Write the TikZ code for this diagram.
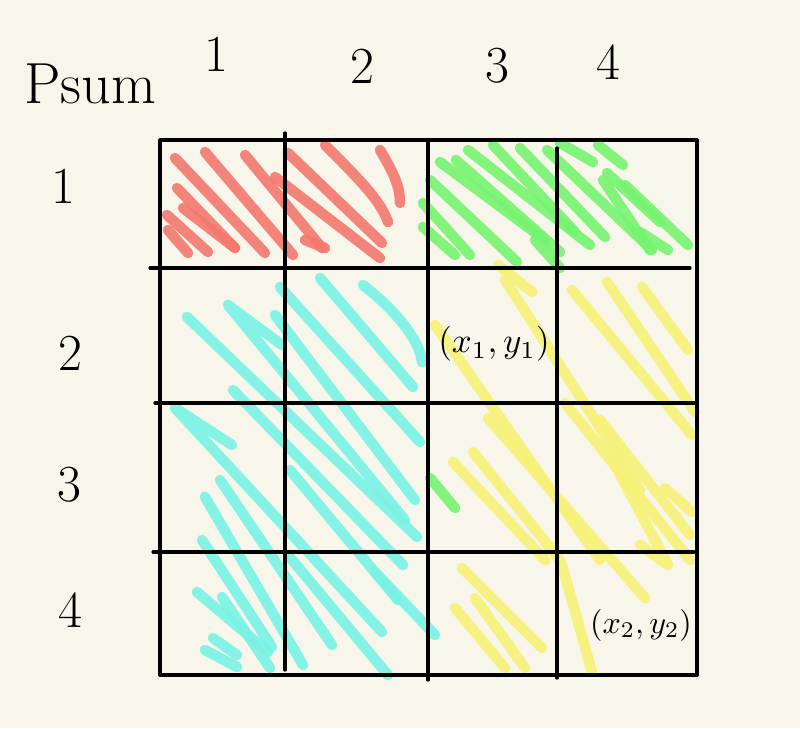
\documentclass[tikz,border=0pt]{standalone}
\usepackage{fontspec}
\begin{document}
\begin{tikzpicture}[x=1pt,y=-1pt,
  hatch/.style={line width=10.5pt,line cap=round,line join=round,opacity=0.9},
  redh/.style={hatch,draw=redc},
  greenh/.style={hatch,draw=greenc},
  cyanh/.style={hatch,draw=cyanc},
  yellowh/.style={hatch,draw=yellowc},
  gridline/.style={line width=3.2pt,line cap=round,draw=black},
  lab/.style={font=\fontsize{52}{56}\selectfont,inner sep=0pt},
  pt/.style={inner sep=0pt}]
\definecolor{bg}{RGB}{248,246,234}
\definecolor{redc}{RGB}{244,120,110}
\definecolor{greenc}{RGB}{118,243,112}
\definecolor{cyanc}{RGB}{120,242,228}
\definecolor{yellowc}{RGB}{246,242,118}
\fill[bg] (0,0) rectangle (800,728);
\useasboundingbox (0,0) rectangle (800,728);

% red hatching (row 1, columns 1-2)
\draw[redh] (175,158) -- (265,253);
\draw[redh] (177,188) -- (235,248);
\draw[redh] (183,208) -- (235,248);
\draw[redh] (167,215) -- (208,252);
\draw[redh] (168,230) -- (188,253);
\draw[redh] (205,152) -- (293,255);
\draw[redh] (245,155) -- (322,248);
\draw[redh] (275,177) -- (380,258);
\draw[redh] (288,153) -- (382,243);
\draw[redh] (305,240) -- (325,248);
\draw[redh] (325,145) .. controls (360,180) and (380,200) .. (388,222);
\draw[redh] (380,150) .. controls (395,175) and (400,188) .. (400,203);

% green hatching (row 1, columns 3-4)
\draw[greenh] (430,180) -- (517,262);
\draw[greenh] (423,203) -- (470,255);
\draw[greenh] (423,227) -- (455,255);
\draw[greenh] (440,162) -- (545,240);
\draw[greenh] (456,160) -- (560,252);
\draw[greenh] (468,150) -- (590,245);
\draw[greenh] (493,145) -- (575,232);
\draw[greenh] (520,148) -- (605,237);
\draw[greenh] (547,150) -- (652,250);
\draw[greenh] (560,143) -- (593,162);
\draw[greenh] (598,145) -- (623,165);
\draw[greenh] (607,173) -- (660,222);
\draw[greenh] (603,180) -- (650,250);
\draw[greenh] (625,185) -- (688,245);
\draw[greenh] (640,232) -- (668,250);
\draw[greenh] (535,240) -- (560,268);

% cyan hatching (rows 2-4, columns 1-2)
\draw[cyanh] (187,317) -- (417,537);
\draw[cyanh] (282,345) -- (228,305) -- (405,520);
\draw[cyanh] (280,287) -- (420,442);
\draw[cyanh] (320,278) -- (413,387);
\draw[cyanh] (363,285) .. controls (395,310) and (420,340) .. (422,362);
\draw[cyanh] (275,315) -- (415,500);
\draw[cyanh] (233,390) -- (403,565);
\draw[cyanh] (232,445) -- (175,408) -- (382,632);
\draw[cyanh] (220,480) -- (332,645);
\draw[cyanh] (205,497) -- (303,665);
\draw[cyanh] (202,540) -- (272,647);
\draw[cyanh] (197,592) -- (268,652);
\draw[cyanh] (222,597) -- (270,668);
\draw[cyanh] (205,650) -- (237,667);
\draw[cyanh] (213,638) -- (237,655);
\draw[cyanh] (375,572) -- (435,635);
\draw[cyanh] (288,555) -- (388,675);
\draw[cyanh] (290,470) -- (398,600);

% yellow hatching (rows 2-4, columns 3-4)
\draw[yellowh] (498,265) -- (532,292);
\draw[yellowh] (505,280) -- (640,490);
\draw[yellowh] (435,325) -- (600,560);
\draw[yellowh] (572,290) -- (692,435);
\draw[yellowh] (607,282) -- (695,412);
\draw[yellowh] (642,287) -- (688,350);
\draw[yellowh] (488,418) -- (645,598);
\draw[yellowh] (473,452) -- (560,560);
\draw[yellowh] (562,565) -- (592,672);
\draw[yellowh] (453,462) -- (545,560);
\draw[yellowh] (462,568) -- (542,648);
\draw[yellowh] (475,598) -- (525,668);
\draw[yellowh] (455,608) -- (505,668);
\draw[yellowh] (640,545) -- (668,565) -- (615,465);
\draw[yellowh] (665,488) -- (692,512);
\draw[yellowh] (565,403) -- (690,560);
\draw[yellowh] (600,420) -- (690,535);
\draw[greenh] (430,478) -- (455,508);

% grid
\coordinate (v1t) at (160,140); \coordinate (v1b) at (160,675);
\coordinate (v2t) at (285,133); \coordinate (v2b) at (285,670);
\coordinate (v3t) at (428,140); \coordinate (v3b) at (428,680);
\coordinate (v4t) at (557,148); \coordinate (v4b) at (557,678);
\coordinate (v5t) at (697,140); \coordinate (v5b) at (697,675);
\coordinate (h1l) at (160,140); \coordinate (h1r) at (697,140);
\coordinate (h2l) at (150,268); \coordinate (h2r) at (690,268);
\coordinate (h3l) at (155,403); \coordinate (h3r) at (697,403);
\coordinate (h4l) at (153,552); \coordinate (h4r) at (694,552);
\coordinate (h5l) at (160,675); \coordinate (h5r) at (697,675);
\draw[gridline] (v1t) -- (v1b);
\draw[gridline] (v2t) -- (v2b);
\draw[gridline] (v3t) -- (v3b);
\draw[gridline] (v4t) -- (v4b);
\draw[gridline] (v5t) -- (v5b);
\draw[gridline] (h1l) -- (h1r);
\draw[gridline] (h2l) -- (h2r);
\draw[gridline] (h3l) -- (h3r);
\draw[gridline] (h4l) -- (h4r);
\draw[gridline] (h5l) -- (h5r);

% labels
\node[font=\fontsize{58}{62}\selectfont,inner sep=0pt] (psum) at (90,84) {Psum};
\node[lab] (c1) at (216,54) {1};
\node[lab] (c2) at (362,66) {2};
\node[lab] (c3) at (497,66) {3};
\node[lab] (c4) at (608,62) {4};
\node[lab] (r1) at (63,186) {1};
\node[lab] (r2) at (70,353) {2};
\node[lab] (r3) at (69,485) {3};
\node[lab] (r4) at (70,610) {4};
\node[pt] (p1) at (494,344) {\scalebox{3.5}{$(x_1,y_1)$}};
\node[pt] (p2) at (641,625) {\scalebox{3.2}{$(x_2,y_2)$}};
\end{tikzpicture}
\end{document}
